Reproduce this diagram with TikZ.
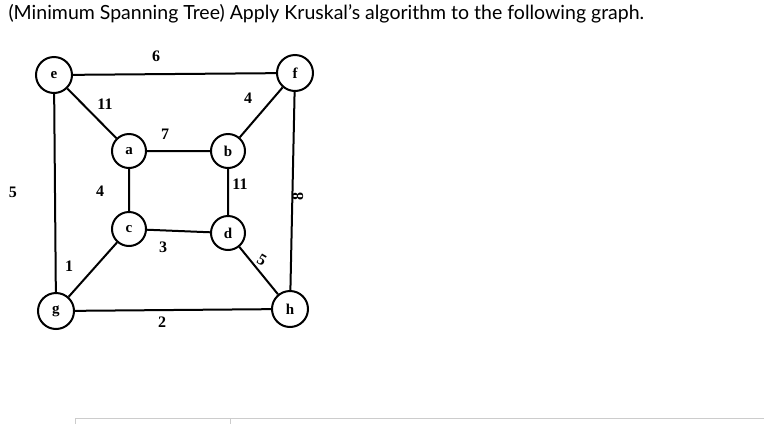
\documentclass[tikz,border=0pt]{standalone}
\usepackage{fontspec}
\setmainfont{Liberation Serif}
\newfontfamily\titlefont{Lato}
\begin{document}
\begin{tikzpicture}[x=1pt,y=-1pt,
  vert/.style={circle,draw,line width=2pt,minimum size=36pt,inner sep=0pt,font=\bfseries\fontsize{15}{15}\selectfont,fill=white},
  small/.style={vert,minimum size=34pt},
  wt/.style={font=\bfseries\fontsize{16}{16}\selectfont,inner sep=1pt},
  edge/.style={line width=2pt}]
\useasboundingbox (0,0) rectangle (764,424);
\node[anchor=west,font=\titlefont\fontsize{19.5}{19.5}\selectfont] (t) at (5,14) {(Minimum Spanning Tree) Apply Kruskal’s algorithm to the following graph.};
\node[vert] (e) at (54,75) {e};
\node[vert] (f) at (295,73) {f};
\node[small] (a) at (129,151) {a};
\node[small] (b) at (228,151) {b};
\node[small] (c) at (129,229) {c};
\node[small] (d) at (228,233) {d};
\node[vert] (g) at (56,311) {g};
\node[vert] (h) at (290,309) {h};
\draw[edge] (e)--(f) (e)--(g) (e)--(a) (f)--(b) (f)--(h) (a)--(b) (a)--(c) (b)--(d) (c)--(d) (c)--(g) (d)--(h) (g)--(h);
\node[wt] (w1) at (156,56) {6};
\node[wt] (w2) at (105,104) {11};
\node[wt] (w3) at (248,98) {4};
\node[wt] (w4) at (165,134) {7};
\node[wt] (w5) at (13,192) {5};
\node[wt] (w6) at (100,191) {4};
\node[wt] (w7) at (240,184) {11};
\node[wt,rotate=90] (w8) at (298,196) {8};
\node[wt] (w9) at (163,247) {3};
\node[wt] (w10) at (69,266) {1};
\node[wt,rotate=-30] (w11) at (262,260) {5};
\node[wt] (w12) at (162,322) {2};
\draw[gray!40,line width=0.8pt] (75,418)--(764,418);
\draw[gray!40,line width=0.8pt] (75,424)--(75,418)--(230,418)--(230,424);
\end{tikzpicture}
\end{document}
